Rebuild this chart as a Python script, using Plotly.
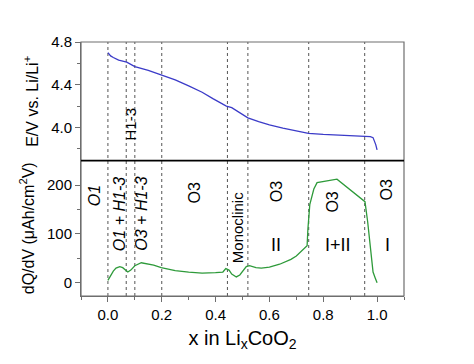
import plotly.graph_objects as go

# ---- data ----
e_x = [0, 0.005, 0.01, 0.02, 0.04, 0.07, 0.1, 0.15, 0.2, 0.25, 0.3, 0.35, 0.39, 0.44,
       0.46, 0.49, 0.52, 0.56, 0.6, 0.65, 0.7, 0.745, 0.8, 0.85, 0.9, 0.955, 0.975,
       0.985, 0.99, 0.995, 1.0]
e_v = [4.70, 4.685, 4.67, 4.655, 4.63, 4.612, 4.57, 4.535, 4.49, 4.445, 4.39, 4.33,
       4.27, 4.20, 4.185, 4.135, 4.09, 4.055, 4.025, 3.995, 3.97, 3.945, 3.935, 3.93,
       3.928, 3.92, 3.915, 3.905, 3.88, 3.84, 3.79]

dq_x = [0.0, 0.01, 0.02, 0.03, 0.044, 0.055, 0.065, 0.074, 0.085, 0.1, 0.124, 0.15,
        0.17, 0.198, 0.25, 0.3, 0.35, 0.4, 0.427, 0.438, 0.45, 0.46, 0.477, 0.49,
        0.514, 0.526, 0.55, 0.57, 0.6, 0.638, 0.68, 0.70, 0.74, 0.743, 0.746, 0.75,
        0.765, 0.777, 0.851, 0.955, 0.965, 0.975, 0.985, 0.993, 1.0]
dq_v = [5, 14, 24, 30, 33, 31, 27, 22, 26, 35, 41, 39, 36, 31, 25, 22, 20, 21, 22, 29,
        26, 18, 12, 16, 33, 35, 31, 30, 32, 38, 48, 55, 76, 110, 142, 160, 192, 205,
        212, 166, 125, 75, 22, 10, 0]

boundaries = [0.0, 0.068, 0.1, 0.2, 0.444, 0.52, 0.746, 0.954]

low_labels = ["<i>O1</i>", "<i>O1 + H1-3</i>", "<i>O3 + H1-3</i>", "O3", "Monoclinic",
              "O3", "O3", "O3"]
low_label_x = [-0.05, 0.044, 0.124, 0.32, 0.48, 0.626, 0.836, 1.035]
low_label_y = [178, 140, 142, 183, 112, 186, 166, 190]
low_label_size = [16, 16, 16, 16, 15, 16, 16, 16]

roman_labels = ["II", "I+II", "I"]
roman_x = [0.626, 0.855, 1.04]
roman_y = [77, 77, 77]

top_label = "H1-3"
top_label_x = 0.083
top_label_v = 4.03

FONT = "Liberation Sans, Arial, sans-serif"
GRAY = "#6e6e6e"
split = 0.533

fig = go.Figure()
fig.add_trace(go.Scatter(x=e_x, y=e_v, mode="lines", line=dict(color="#3b3bc8", width=1.3),
                         xaxis="x", yaxis="y2", showlegend=False))
fig.add_trace(go.Scatter(x=dq_x, y=dq_v, mode="lines", line=dict(color="#2e9a3a", width=1.3),
                         xaxis="x", yaxis="y", showlegend=False))

for b in boundaries:
    fig.add_shape(type="line", xref="x", yref="paper", x0=b, x1=b, y0=0, y1=1,
                  line=dict(color="#555555", width=1, dash="dot"), layer="below")

# frame
fig.add_shape(type="rect", xref="paper", yref="paper", x0=0, x1=1, y0=0, y1=1,
              line=dict(color=GRAY, width=1.2))
fig.add_shape(type="line", xref="paper", yref="paper", x0=0, x1=1, y0=split, y1=split,
              line=dict(color="#000000", width=1.8))

for t, x, y, s in zip(low_labels, low_label_x, low_label_y, low_label_size):
    fig.add_annotation(text=t, x=x, y=y, xref="x", yref="y", textangle=-90,
                       showarrow=False, font=dict(size=s, color="black", family=FONT))
for t, x, y in zip(roman_labels, roman_x, roman_y):
    fig.add_annotation(text=t, x=x, y=y, xref="x", yref="y", showarrow=False,
                       font=dict(size=18, color="black", family=FONT))
fig.add_annotation(text=top_label, x=top_label_x, y=top_label_v, xref="x", yref="y2",
                   textangle=-90, showarrow=False,
                   font=dict(size=15, color="black", family=FONT))

fig.update_layout(
    width=474, height=364,
    margin=dict(l=81, r=70, t=42, b=68),
    paper_bgcolor="white", plot_bgcolor="white",
    font=dict(family=FONT, color="black", size=15),
    xaxis=dict(range=[-0.1, 1.1], tickvals=[0, 0.2, 0.4, 0.6, 0.8, 1.0],
               ticktext=["0.0", "0.2", "0.4", "0.6", "0.8", "1.0"],
               ticks="outside", ticklen=5, tickcolor=GRAY, showgrid=False,
               zeroline=False, showline=True, linecolor=GRAY, anchor="y",
               minor=dict(tickvals=[-0.1, 0.1, 0.3, 0.5, 0.7, 0.9, 1.1], ticks="outside",
                          ticklen=3, tickcolor=GRAY),
               title=dict(text="x in Li<sub>x</sub>CoO<sub>2</sub>",
                          font=dict(size=20), standoff=8),
               tickfont=dict(size=15)),
    yaxis=dict(domain=[0, split], range=[-27, 250], tickvals=[0, 100, 200],
               ticks="outside", ticklen=5, tickcolor=GRAY, showgrid=False,
               zeroline=False, showline=True, linecolor=GRAY, anchor="x",
               minor=dict(tickvals=[50, 150], ticks="outside", ticklen=3, tickcolor=GRAY),
               title=dict(text="dQ/dV (\u03bcAh/cm<sup>2</sup>V)", font=dict(size=16),
                          standoff=8),
               tickfont=dict(size=15)),
    yaxis2=dict(domain=[split, 1], range=[3.69, 4.8], tickvals=[4.0, 4.4, 4.8],
                ticktext=["4.0", "4.4", "4.8"],
                ticks="outside", ticklen=5, tickcolor=GRAY, showgrid=False,
                zeroline=False, showline=True, linecolor=GRAY, anchor="x",
                minor=dict(tickvals=[3.8, 4.2, 4.6], ticks="outside", ticklen=3,
                           tickcolor=GRAY),
                title=dict(text="E/V vs. Li/Li<sup>+</sup>", font=dict(size=16),
                           standoff=8),
                tickfont=dict(size=15)),
)

fig.write_html("out.html")
